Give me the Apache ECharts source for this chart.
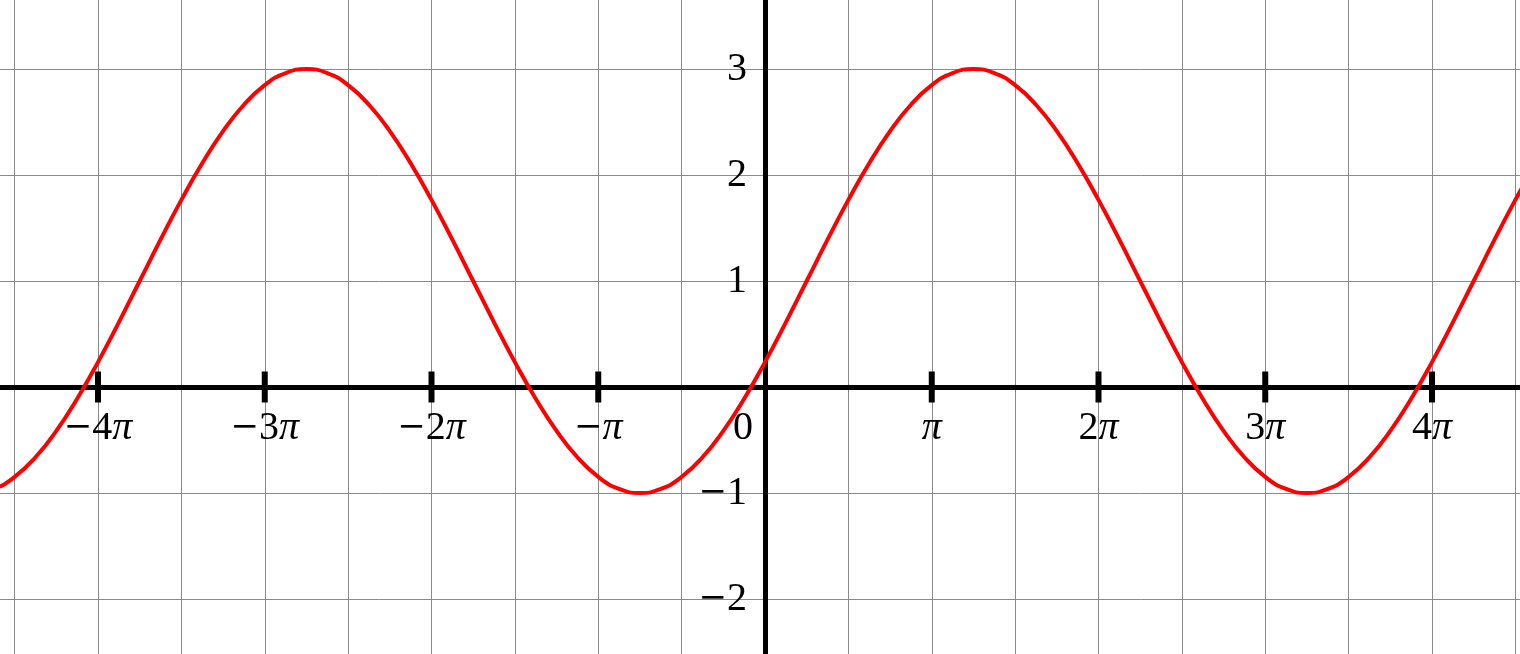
<!DOCTYPE html>
<html>
<head>
<meta charset="utf-8">
<script src="https://cdn.jsdelivr.net/npm/echarts@6/dist/echarts.min.js"></script>
<style>
  html, body { margin: 0; padding: 0; background: #fff; }
  #chart { width: 1520px; height: 654px; }
</style>
</head>
<body>
<div id="chart"></div>
<script>
// x values are in units of pi, every pi/8
const xs = [
  -4.75, -4.625, -4.5, -4.375, -4.25, -4.125, -4, -3.875, -3.75, -3.625,
  -3.5, -3.375, -3.25, -3.125, -3, -2.875, -2.75, -2.625, -2.5, -2.375,
  -2.25, -2.125, -2, -1.875, -1.75, -1.625, -1.5, -1.375, -1.25, -1.125,
  -1, -0.875, -0.75, -0.625, -0.5, -0.375, -0.25, -0.125, 0, 0.125,
  0.25, 0.375, 0.5, 0.625, 0.75, 0.875, 1, 1.125, 1.25, 1.375,
  1.5, 1.625, 1.75, 1.875, 2, 2.125, 2.25, 2.375, 2.5, 2.625,
  2.75, 2.875, 3, 3.125, 3.25, 3.375, 3.5, 3.625, 3.75, 3.875,
  4, 4.125, 4.25, 4.375, 4.5, 4.625, 4.75
];
const ys = [
  -1, -0.962, -0.848, -0.663, -0.414, -0.111, 0.235, 0.61, 1, 1.39,
  1.765, 2.111, 2.414, 2.663, 2.848, 2.962, 3, 2.962, 2.848, 2.663,
  2.414, 2.111, 1.765, 1.39, 1, 0.61, 0.235, -0.111, -0.414, -0.663,
  -0.848, -0.962, -1, -0.962, -0.848, -0.663, -0.414, -0.111, 0.235, 0.61,
  1, 1.39, 1.765, 2.111, 2.414, 2.663, 2.848, 2.962, 3, 2.962,
  2.848, 2.663, 2.414, 2.111, 1.765, 1.39, 1, 0.61, 0.235, -0.111,
  -0.414, -0.663, -0.848, -0.962, -1, -0.962, -0.848, -0.663, -0.414, -0.111,
  0.235, 0.61, 1, 1.39, 1.765, 2.111, 2.414
];

// tick marks and labels on the axes
const piTicks = [-4, -3, -2, -1, 1, 2, 3, 4];
const xLabelValues = [-4, -3, -2, -1, 0, 1, 2, 3, 4];
const yLabelValues = [-2, -1, 1, 2, 3];

const FONT = 'Liberation Serif';

const richStyles = {
  m: { fontFamily: 'DejaVu Serif', fontSize: 34, color: '#000' },
  n: { fontFamily: FONT, fontSize: 40, color: '#000' },
  p: { fontFamily: FONT, fontSize: 40, fontStyle: 'italic', color: '#000' },
  z: { fontFamily: FONT, fontSize: 40, color: '#000', padding: [0, 44, 0, 0] }
};

function numText(v) {
  const a = Math.abs(v);
  return (v < 0 ? '{m|−}' : '') + (a === 1 ? '' : '{n|' + a + '}');
}

function piLabel(v) {
  if (v === 0) return '{z|0}';
  return numText(v) + '{p|π}';
}

const chart = echarts.init(document.getElementById('chart'));

// grid runs past the page so that x = ±5π and y = -3..4 sit outside it
const option = {
  animation: false,
  grid: {
    left: -68.75,
    right: -78.75,
    top: -37,
    bottom: -51,
    containLabel: false,
    outerBoundsMode: 'none'
  },
  xAxis: {
    type: 'value',
    position: 'bottom',
    offset: -318,
    min: -5,
    max: 5,
    interval: 0.5,
    axisLine: { onZero: false, lineStyle: { color: '#000', width: 5 } },
    axisTick: { show: false },
    axisLabel: {
      customValues: xLabelValues,
      margin: 21,
      formatter: piLabel,
      rich: richStyles
    },
    splitLine: { show: true, lineStyle: { color: '#8a8a8a', width: 1 } }
  },
  yAxis: {
    type: 'value',
    position: 'left',
    offset: -833.75,
    min: -3,
    max: 4,
    interval: 1,
    axisLine: { onZero: false, lineStyle: { color: '#000', width: 5 } },
    axisTick: { show: false },
    axisLabel: {
      customValues: yLabelValues,
      margin: 18,
      formatter: v => (v < 0 ? '{m|−}{n|' + Math.abs(v) + '}' : '{n|' + v + '}'),
      rich: richStyles
    },
    splitLine: { show: true, lineStyle: { color: '#8a8a8a', width: 1 } }
  },
  series: [
    {
      // tick marks at multiples of pi, crossing the x axis
      type: 'scatter',
      data: piTicks.map(v => [v, 0]),
      symbol: 'rect',
      symbolSize: [6, 31],
      itemStyle: { color: '#000', opacity: 1 },
      silent: true,
      z: 5
    },
    {
      type: 'line',
      data: xs.map((x, i) => [x, ys[i]]),
      smooth: true,
      showSymbol: false,
      lineStyle: { color: '#ff0000', width: 4 },
      z: 10
    }
  ]
};

chart.setOption(option);
</script>
</body>
</html>
